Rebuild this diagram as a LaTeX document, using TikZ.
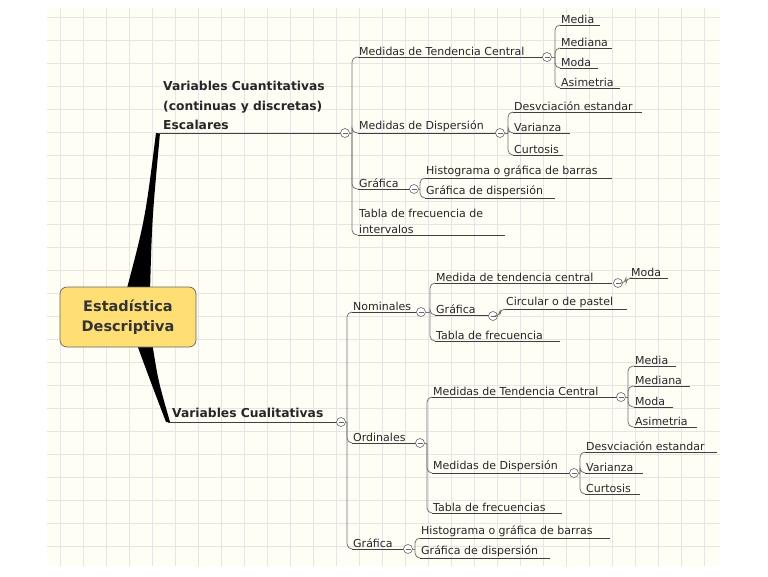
\documentclass[tikz,border=0pt]{standalone}
\usepackage{fontspec}
\setmainfont{DejaVu Sans}
\begin{document}
\begin{tikzpicture}[x=1pt,y=-1pt,
  lbl/.style={inner sep=1pt,anchor=south west,font=\fontsize{11}{12}\selectfont,text=black!85},
  blbl/.style={inner sep=0pt,anchor=south west,align=left,font=\bfseries\fontsize{12.3}{19.5}\selectfont,text=black!85},
  ln/.style={draw=black!75,line width=0.8pt},
  sp/.style={draw=black!55,line width=0.8pt,rounded corners=5pt},
  knob/.style={circle,draw=black!60,fill=white,minimum size=9pt,inner sep=0pt,line width=0.6pt},
]
\useasboundingbox (0,0) rectangle (768,576);
\fill[white] (0,0) rectangle (768,576);
\fill[yellow!4!white] (47,8) rectangle (720,566);
\begin{scope}
\clip (47,8) rectangle (720,566);
\foreach \i in {0,...,30} {\draw[black!10,line width=0.5pt] (60+23*\i,8) -- (60+23*\i,566);}
\foreach \i in {0,...,24} {\draw[black!10,line width=0.5pt] (47,17+23*\i) -- (720,17+23*\i);}
\end{scope}

% leaf macro: name, x0, x1, y, text
\newcommand{\leafx}[5]{\node[lbl] (#1) at (#2,#4) {#5}; \draw[ln] (#2,#4) -- (#3,#4);}
% spine macro: spine x, parent y, child y, child x0
\newcommand{\spinex}[4]{\draw[sp] (#1,#2) -- (#1,#3) -- (#4,#3);}
\newcommand{\knobx}[3]{\node[knob] (#1) at (#2,#3) {}; \draw[black!60,line width=0.7pt] (#2-2.5,#3) -- (#2+2.5,#3);}

% root branches
\fill[black] (126,292) .. controls (145,220) .. (156,133) -- (160,133) .. controls (152,220) .. (150,292) -- cycle;
\fill[black] (136,342) .. controls (150,380) .. (166,422) -- (170,422) .. controls (158,380) .. (152,342) -- cycle;
\node[draw=black!60,fill=orange!45!yellow!55,rounded corners=7pt,minimum width=136pt,minimum height=60pt,align=center,
  font=\bfseries\fontsize{14.5}{20}\selectfont,text=black!80,line width=0.7pt] (root) at (128,317) {Estadística\\Descriptiva};

% ===== Cuantitativas =====
\node[blbl] (cuant) at (163,130) {Variables Cuantitativas\\(continuas y discretas)\\Escalares};
\draw[ln] (158,133) -- (341,133);
\knobx{k1}{345}{133}
\draw[sp] (349.5,133) -- (352,133);
\foreach \y in {57,133,189,235} {\spinex{352}{133}{\y}{358}}
\leafx{mtc}{358}{543}{57}{Medidas de Tendencia Central}
\knobx{k2}{547}{57}
\foreach \y in {25,48,68,88} {\spinex{555}{57}{\y}{560}}
\draw[sp] (551.5,57) -- (555,57);
\leafx{m1}{560}{600}{25}{Media}
\leafx{m2}{560}{612}{48}{Mediana}
\leafx{m3}{560}{598}{68}{Moda}
\leafx{m4}{560}{620}{88}{Asimetria}

\leafx{md}{358}{496}{133}{Medidas de Dispersión}
\knobx{k3}{500}{133}
\draw[sp] (504.5,133) -- (508,133);
\foreach \y in {112,133,155} {\spinex{508}{133}{\y}{513}}
\leafx{d1}{513}{642}{112}{Desvciación estandar}
\leafx{d2}{513}{570}{133}{Varianza}
\leafx{d3}{513}{563}{155}{Curtosis}

\leafx{gr}{358}{410}{189}{Gráfica}
\knobx{k4}{414}{189}
\draw[sp] (418.5,189) -- (420,189);
\foreach \y in {178,198} {\spinex{420}{189}{\y}{425}}
\leafx{g1}{425}{612}{178}{Histograma o gráfica de barras}
\leafx{g2}{425}{555}{198}{Gráfica de dispersión}

\node[lbl,align=left,font=\fontsize{11}{16}\selectfont] (tab) at (358,235) {Tabla de frecuencia de\\intervalos};
\draw[ln] (358,235) -- (505,235);

% ===== Cualitativas =====
\node[blbl] (cual) at (172,418) {Variables Cualitativas};
\draw[ln] (168,422) -- (337,422);
\knobx{q1}{341}{422}
\draw[sp] (345.5,422) -- (347,422);
\foreach \y in {312,443,549} {\spinex{347}{422}{\y}{352}}

\leafx{nom}{352}{417}{312}{Nominales}
\knobx{q2}{421}{312}
\draw[sp] (425.5,312) -- (430,312);
\foreach \y in {283,315,341} {\spinex{430}{312}{\y}{435}}
\leafx{n1}{435}{612}{283}{Medida de tendencia central}
\knobx{q3}{618}{283}
\draw[sp] (622.5,283) -- (626,283) -- (626,278) -- (630,278);
\leafx{n1a}{630}{668}{278}{Moda}
\leafx{n2}{435}{489}{315}{Gráfica}
\knobx{q4}{493}{316}
\draw[sp] (497.5,316) -- (500,316) -- (500,309) -- (505,309);
\leafx{n2a}{505}{627}{309}{Circular o de pastel}
\leafx{n3}{435}{560}{341}{Tabla de frecuencia}

\leafx{ord}{352}{416}{443}{Ordinales}
\knobx{q5}{420}{443}
\draw[sp] (424.5,443) -- (427,443);
\foreach \y in {397,473,513} {\spinex{427}{443}{\y}{432}}
\leafx{o1}{432}{617}{397}{Medidas de Tendencia Central}
\knobx{q6}{621}{397}
\draw[sp] (625.5,397) -- (628,397);
\foreach \y in {366,386,407,427} {\spinex{628}{397}{\y}{634}}
\leafx{o1a}{634}{676}{366}{Media}
\leafx{o1b}{634}{690}{386}{Mediana}
\leafx{o1c}{634}{673}{407}{Moda}
\leafx{o1d}{634}{697}{427}{Asimetria}
\leafx{o2}{432}{570}{473}{Medidas de Dispersión}
\knobx{q7}{574}{473}
\draw[sp] (578.5,473) -- (580,473);
\foreach \y in {452,473,494} {\spinex{580}{473}{\y}{585}}
\leafx{o2a}{585}{717}{452}{Desvciación estandar}
\leafx{o2b}{585}{643}{473}{Varianza}
\leafx{o2c}{585}{640}{494}{Curtosis}
\leafx{o3}{432}{562}{513}{Tabla de frecuencias}

\leafx{qg}{352}{404}{549}{Gráfica}
\knobx{q8}{408}{549}
\draw[sp] (412.5,549) -- (415,549);
\foreach \y in {538,558} {\spinex{415}{549}{\y}{420}}
\leafx{qg1}{420}{610}{538}{Histograma o gráfica de barras}
\leafx{qg2}{420}{550}{558}{Gráfica de dispersión}
\end{tikzpicture}
\end{document}
